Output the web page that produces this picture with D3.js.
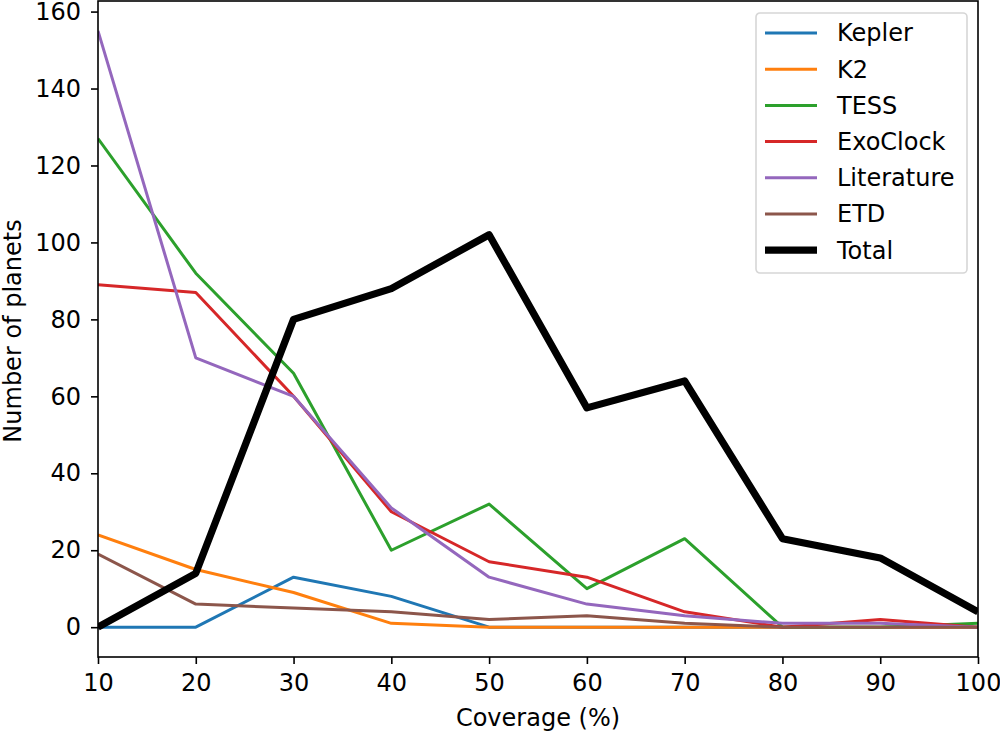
<!DOCTYPE html>
<html>
<head>
<meta charset="utf-8">
<script src="https://cdn.jsdelivr.net/npm/d3@7"></script>
<style>
body { margin: 0; background: #fff; }
text { font-family: "DejaVu Sans", sans-serif; }
</style>
</head>
<body>
<div id="chart"></div>
<script>
// data
var coverage = [10, 20, 30, 40, 50, 60, 70, 80, 90, 100];
var kepler = [0, 0, 13, 8, 0, 0, 0, 0, 0, 0];
var k2 = [24, 15, 9, 1, 0, 0, 0, 0, 0, 0];
var tess = [127, 92, 66, 20, 32, 10, 23, 0, 0, 1];
var exoclock = [89, 87, 60, 30, 17, 13, 4, 0, 2, 0];
var literature = [155, 70, 60, 31, 13, 6, 3, 1, 1, 0];
var etd = [19, 6, 5, 4, 2, 3, 1, 0, 0, 0];
var total = [0, 14, 80, 88, 102, 57, 64, 23, 18, 4];
var xTicks = [10, 20, 30, 40, 50, 60, 70, 80, 90, 100];
var yTicks = [0, 20, 40, 60, 80, 100, 120, 140, 160];

var series = [
  {name: "Kepler", values: kepler, color: "#1f77b4", w: 3},
  {name: "K2", values: k2, color: "#ff7f0e", w: 3},
  {name: "TESS", values: tess, color: "#2ca02c", w: 3},
  {name: "ExoClock", values: exoclock, color: "#d62728", w: 3},
  {name: "Literature", values: literature, color: "#9467bd", w: 3},
  {name: "ETD", values: etd, color: "#8c564b", w: 3},
  {name: "Total", values: total, color: "#000000", w: 7.2}
];

////////////////////////////////////////////////////////////
//////////////////////// Set-Up ////////////////////////////
////////////////////////////////////////////////////////////
var W = 1000, H = 732;
var margin = {left: 98, top: 1, right: 22, bottom: 75};
var width = W - margin.left - margin.right,
    height = H - margin.top - margin.bottom;
var fontSize = "24px";

var x = d3.scaleLinear().domain([10, 100]).range([0, width]);
var y = d3.scaleLinear().domain([-7.75, 162.75]).range([height, 0]);

var svg = d3.select("#chart").append("svg")
  .attr("width", W)
  .attr("height", H);

var g = svg.append("g")
  .attr("transform", "translate(" + margin.left + "," + margin.top + ")");

g.append("clipPath").attr("id", "clip")
  .append("rect").attr("width", width).attr("height", height);

////////////////////////////////////////////////////////////
////////////////////// Lines ///////////////////////////////
////////////////////////////////////////////////////////////
var line = d3.line()
  .x(function(d, i) { return x(coverage[i]); })
  .y(function(d) { return y(d); });

g.append("g").attr("clip-path", "url(#clip)")
  .selectAll("path.series")
  .data(series)
  .enter().append("path")
  .attr("class", "series")
  .attr("fill", "none")
  .attr("stroke", function(d) { return d.color; })
  .attr("stroke-width", function(d) { return d.w; })
  .attr("stroke-linejoin", "round")
  .attr("stroke-linecap", "butt")
  .attr("d", function(d) { return line(d.values); });

////////////////////////////////////////////////////////////
////////////////////// Axes ////////////////////////////////
////////////////////////////////////////////////////////////
var xAxis = g.append("g")
  .attr("transform", "translate(0," + height + ")")
  .call(d3.axisBottom(x).tickValues(xTicks).tickSize(7).tickPadding(10));
var yAxis = g.append("g")
  .call(d3.axisLeft(y).tickValues(yTicks).tickSize(7).tickPadding(10));

[xAxis, yAxis].forEach(function(a) {
  a.select(".domain").remove();
  a.selectAll(".tick line").attr("stroke", "#000").attr("stroke-width", 1.6);
  a.selectAll(".tick text").attr("fill", "#000").style("font-size", fontSize);
});

// frame
g.append("rect")
  .attr("width", width).attr("height", height)
  .attr("fill", "none").attr("stroke", "#000").attr("stroke-width", 1.6);

g.append("text")
  .attr("x", width / 2).attr("y", height + 69)
  .attr("text-anchor", "middle")
  .style("font-size", fontSize)
  .text("Coverage (%)");

g.append("text")
  .attr("transform", "translate(" + (-77) + "," + (height / 2 + 2) + ") rotate(-90)")
  .attr("text-anchor", "middle")
  .style("font-size", fontSize)
  .text("Number of planets");

////////////////////////////////////////////////////////////
////////////////////// Legend //////////////////////////////
////////////////////////////////////////////////////////////
var legend = svg.append("g").attr("transform", "translate(756,13)");
legend.append("rect")
  .attr("width", 211).attr("height", 260)
  .attr("rx", 4)
  .attr("fill", "#fff").attr("fill-opacity", 0.8)
  .attr("stroke", "#d6d6d6").attr("stroke-width", 1.6);

var items = legend.selectAll("g.item")
  .data(series)
  .enter().append("g")
  .attr("class", "item")
  .attr("transform", function(d, i) { return "translate(0," + (20 + i * 36.2) + ")"; });

items.append("line")
  .attr("x1", 9).attr("x2", 61)
  .attr("stroke", function(d) { return d.color; })
  .attr("stroke-width", function(d) { return d.w; });

items.append("text")
  .attr("x", 81).attr("dy", "0.35em")
  .style("font-size", fontSize)
  .text(function(d) { return d.name; });
</script>
</body>
</html>
